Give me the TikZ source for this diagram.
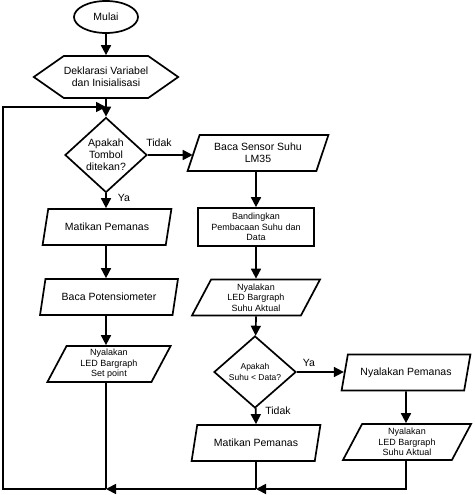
\documentclass[tikz,border=0pt]{standalone}
\usepackage{fontspec}
\setmainfont{Liberation Sans}
\usetikzlibrary{positioning}
\usetikzlibrary{shapes.geometric}
\usetikzlibrary{shapes.symbols}
\usetikzlibrary{arrows.meta}

\newcommand{\txtL}{\fontsize{10.5}{12}\selectfont}
\newcommand{\txtS}{\fontsize{9}{10.5}\selectfont}

\begin{document}
\begin{tikzpicture}[x=1pt, y=-1pt, line width=1.7pt,
        every node/.style={font=\txtL, align=center},
        term/.style={ellipse, draw, minimum width=64pt, minimum height=32pt, inner sep=0pt},
        prep/.style={signal, signal to=west and east, signal pointer angle=70, draw,
            minimum width=136pt, minimum height=42pt, inner sep=0pt},
        decision/.style={diamond, draw, inner sep=0pt, minimum width=82pt, minimum height=75pt},
        io/.style={trapezium, trapezium left angle=67, trapezium right angle=113,
            trapezium stretches=true, draw, minimum width=129pt, minimum height=36pt, inner sep=1pt},
        proc/.style={rectangle, draw, minimum width=116pt, minimum height=38pt, inner sep=1pt},
        arr/.style={-{Triangle[length=10pt, width=10pt]}}]
        \useasboundingbox (0,0) rectangle (474,495);

        % left column
        \node[term] (mulai) at (106,17) {Mulai};
        \node[prep] (dekl) at (106,77) {Deklarasi Variabel\\dan Inisialisasi};
        \node[decision] (tombol) at (106,155) {Apakah\\Tombol\\ditekan?};
        \node[io] (matiA) at (107,227) {Matikan Pemanas};
        \node[io, minimum width=138pt] (pot) at (109,297) {Baca Potensiometer};
        \node[io, minimum width=124pt, font=\txtS] (setp) at (109,364) {Nyalakan\\LED Bargraph\\Set point};

        % middle column
        \node[io, minimum width=141pt] (sensor) at (258,153) {Baca Sensor Suhu\\LM35};
        \node[proc, font=\txtS] (banding) at (256,227) {Bandingkan\\Pembacaan Suhu dan\\Data};
        \node[io, font=\txtS] (ledA) at (256,297.5) {Nyalakan\\LED Bargraph\\Suhu Aktual};
        \node[decision, minimum height=72pt, font=\fontsize{8.5}{11}\selectfont] (suhu) at (255,372) {Apakah\\Suhu < Data?};
        \node[io] (matiB) at (256,443) {Matikan Pemanas};

        % right column
        \node[io] (nyala) at (406,372.5) {Nyalakan Pemanas};
        \node[io, font=\txtS] (ledB) at (407,442) {Nyalakan\\LED Bargraph\\Suhu Aktual};

        % loop points
        \coordinate (jR) at (256,489);
        \coordinate (jL) at (106,489);
        \coordinate (loopC) at (3,489);
        \coordinate (loopT) at (3,107);
        \coordinate (jT) at (106,107);

        \draw[arr] (mulai) -- (dekl);
        \draw[arr] (dekl) -- (tombol);
        \draw[arr] (tombol) -- (tombol |- matiA.north);
        \draw[arr] (tombol) -- (sensor.west |- tombol);
        \node at (159,143) {Tidak};
        \node at (124,198) {Ya};
        \draw[arr] (matiA.south -| tombol) -- (pot.north -| tombol);
        \draw[arr] (pot.south -| tombol) -- (setp.north -| tombol);

        \draw[arr] (sensor.south -| banding) -- (banding);
        \draw[arr] (banding) -- (ledA);
        \draw[arr] (ledA.south -| banding) -- (suhu);
        \draw[arr] (suhu) -- (matiB.north -| banding);
        \draw[arr] (suhu) -- (nyala.west |- suhu);
        \node at (309,363) {Ya};
        \node at (278,411) {Tidak};
        \draw[arr] (nyala) -- (ledB.north -| nyala);

        \draw[arr] (ledB.south -| nyala) |- (jR);
        \draw (matiB.south -| banding) -- (jR);
        \draw[arr] (jR) -- (jL);
        \draw (setp.south -| tombol) -- (jL);
        \draw[arr] (jL) -- (loopC) -- (loopT) -- (jT);
    \end{tikzpicture}
\end{document}
